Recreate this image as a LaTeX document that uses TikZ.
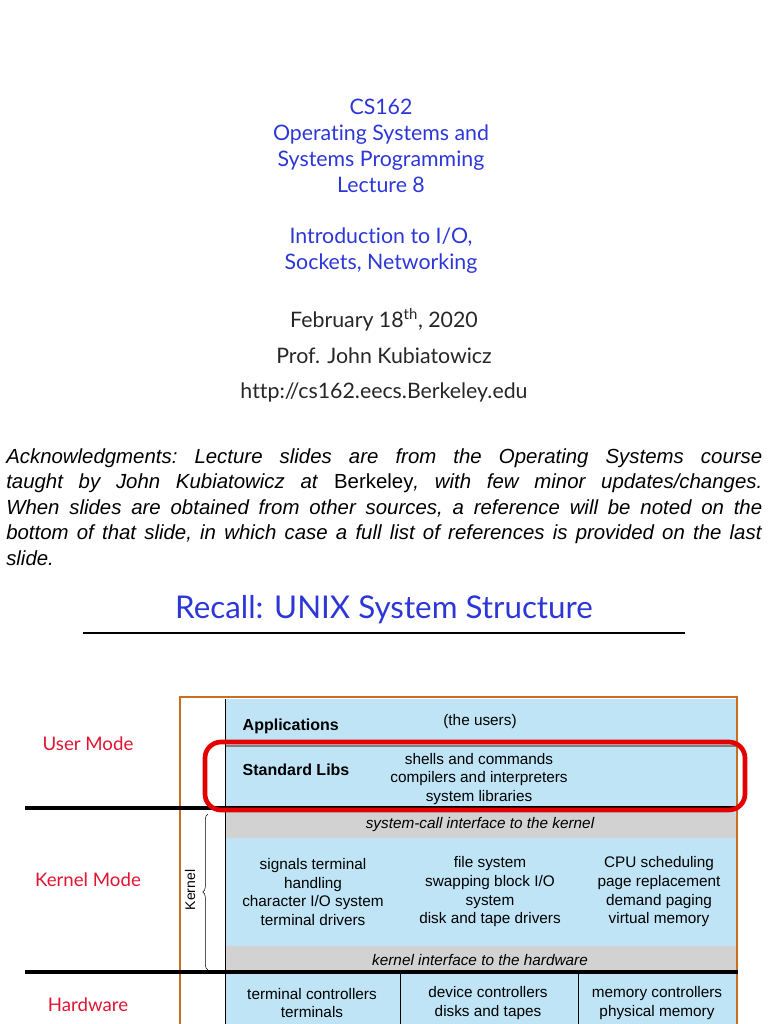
\documentclass[tikz,border=0pt]{standalone}
\usepackage{fontspec}
\setmainfont[Ligatures={NoCommon,NoRare}]{Lato}
\newfontfamily\arialf{Liberation Sans}
\usetikzlibrary{decorations.pathreplacing}
\definecolor{titleblue}{RGB}{45,55,215}
\definecolor{modered}{RGB}{225,20,50}
\definecolor{boxblue}{RGB}{190,228,246}
\definecolor{bandgrey}{RGB}{210,210,210}
\definecolor{frameorange}{RGB}{200,110,30}
\tikzset{
 ttl/.style={text=titleblue,font=\fontsize{16}{19.5}\selectfont,align=center},
 sub/.style={text=black!85,font=\fontsize{16}{19}\selectfont},
 mode/.style={text=modered,font=\fontsize{14}{16}\selectfont},
 dtext/.style={font=\arialf\fontsize{11.5}{14}\selectfont,align=center},
 band/.style={font=\arialf\itshape\fontsize{11.5}{13}\selectfont},
}
\begin{document}
\begin{tikzpicture}[x=0.75pt,y=-0.75pt]
\useasboundingbox (0,0) rectangle (768,1024);
\node[ttl] (t1) at (381,146) {CS162\\Operating Systems and\\Systems Programming\\Lecture 8};
\node[ttl] (t2) at (381,251) {Introduction to I/O,\\Sockets, Networking};
\node[sub] (d) at (384,320) {February 18\textsuperscript{th}, 2020};
\node[sub] (p) at (384,356) {Prof. John Kubiatowicz};
\node[sub] (u) at (384,392) {http://cs162.eecs.Berkeley.edu};
\node[text width=567pt,align=justify,anchor=north west,inner sep=0pt,
 font=\arialf\fontsize{15.3}{19.2}\selectfont] (ack) at (6,448)
 {\frenchspacing\hyphenpenalty=10000\exhyphenpenalty=10000\textit{Acknowledgments: Lecture slides are from the Operating Systems course}\linebreak\textit{taught by John Kubiatowicz at} Berkeley\textit{, with few minor updates/changes.}\linebreak\textit{When slides are obtained from other sources, a reference will be noted on the}\linebreak\textit{bottom of that slide, in which case a full list of references is provided on the last}\linebreak\textit{slide.}};
\node[text=titleblue,font=\fontsize{23.5}{27}\selectfont] (h) at (384,610) {Recall: UNIX System Structure};
\draw[line width=2.2pt] (83,633) -- (685,633);
% diagram
\fill[boxblue] (225,699) rectangle (736,1024);
\fill[bandgrey] (225,813) rectangle (736,838);
\fill[bandgrey] (225,946) rectangle (736,970);
\draw[gray,line width=1pt] (225,746) -- (736,746);
\draw[line width=0.7pt] (400,974) -- (400,1024) (578,974) -- (578,1024);
\draw[line width=0.5pt] (225,699) -- (225,1024);
\draw[frameorange,line width=1.5pt] (180,1024) -- (180,697) -- (737,697) -- (737,1024);
\node[font=\arialf\bfseries\fontsize{12}{14}\selectfont,anchor=west] (app) at (238,726) {Applications};
\node[dtext] (users) at (480,722) {(the users)};
\node[font=\arialf\bfseries\fontsize{12}{14}\selectfont,anchor=west] (sl) at (238,770) {Standard Libs};
\node[dtext] (shells) at (479,779) {shells and commands\\compilers and interpreters\\system libraries};
\node[band] (sc) at (480,825) {system-call interface to the kernel};
\node[dtext] (k1) at (313,892) {signals terminal\\handling\\character I/O system\\terminal drivers};
\node[dtext] (k2) at (490,892) {file system\\swapping block I/O\\system\\disk and tape drivers};
\node[dtext] (k3) at (659,892) {CPU scheduling\\page replacement\\demand paging\\virtual memory};
\node[band] (ki) at (480,960) {kernel interface to the hardware};
\node[dtext] (h1) at (312,1003) {terminal controllers\\terminals};
\node[dtext] (h2) at (488,1003) {device controllers\\disks and tapes};
\node[dtext] (h3) at (657,1003) {memory controllers\\physical memory};
\draw[decorate,decoration={brace,amplitude=4pt}] (208,970) -- (208,814);
\node[rotate=90,font=\arialf\fontsize{10.5}{12}\selectfont] (kern) at (190,890) {Kernel};
\draw[line width=3pt] (25,808) -- (738,808);
\draw[line width=3pt] (25,972) -- (738,972);
\draw[red!90!black,line width=3.5pt,rounded corners=12pt] (205,742) rectangle (745,810);
\node[mode] (um) at (88,744) {User Mode};
\node[mode] (km) at (88,880) {Kernel Mode};
\node[mode] (hw) at (88,1005) {Hardware};
\end{tikzpicture}
\end{document}
